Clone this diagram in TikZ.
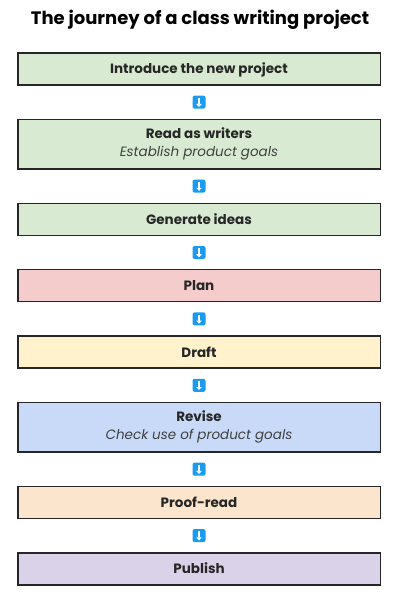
\documentclass[tikz,border=0pt]{standalone}
\usepackage{fontspec}
\setmainfont{Poppins}
\usetikzlibrary{arrows.meta, positioning}

\definecolor{sgreen}{HTML}{D9EAD3}
\definecolor{spink}{HTML}{F4CCCC}
\definecolor{syellow}{HTML}{FFF2CC}
\definecolor{sblue}{HTML}{C9DAF8}
\definecolor{sorange}{HTML}{FCE5CD}
\definecolor{spurple}{HTML}{D9D2E9}
\definecolor{iconblue}{HTML}{1A9BF0}

\begin{document}
\begin{tikzpicture}[x=1pt, y=1pt, node distance=9.75pt,
        stage/.style={draw=black!85, line width=1.5pt, minimum width=362.5pt, minimum height=32pt,
                inner sep=0pt, align=center, text=black!85, text height=9.8pt, text depth=0pt,
                font=\fontsize{13.5}{18}\selectfont\bfseries},
        stagetwo/.style={stage, minimum height=49.5pt, text height=, text depth=},
        icon/.style={fill=iconblue, rounded corners=2pt, minimum size=13pt, inner sep=0pt}]
        \useasboundingbox (0,0) rectangle (400,-599);
        \node[font=\fontsize{18}{20}\selectfont\bfseries] (title) at (200,-19.5) {The journey of a class writing project};
        \node[stage, fill=sgreen] (s_1) at (199,-69) {Introduce the new project};
        \node[icon] (a_1) [below=of s_1] {};
        \node[stagetwo, fill=sgreen] (s_2) [below=of a_1] {Read as writers\\{\mdseries\itshape\color{black!75}Establish product goals}};
        \node[icon] (a_2) [below=of s_2] {};
        \node[stage, fill=sgreen] (s_3) [below=of a_2] {Generate ideas};
        \node[icon] (a_3) [below=of s_3] {};
        \node[stage, fill=spink] (s_4) [below=of a_3] {Plan};
        \node[icon] (a_4) [below=of s_4] {};
        \node[stage, fill=syellow] (s_5) [below=of a_4] {Draft};
        \node[icon] (a_5) [below=of s_5] {};
        \node[stagetwo, fill=sblue] (s_6) [below=of a_5] {Revise\\{\mdseries\itshape\color{black!75}Check use of product goals}};
        \node[icon] (a_6) [below=of s_6] {};
        \node[stage, fill=sorange] (s_7) [below=of a_6] {Proof-read};
        \node[icon] (a_7) [below=of s_7] {};
        \node[stage, fill=spurple] (s_8) [below=of a_7] {Publish};
        \foreach \i in {1,...,7}
                \draw[white, line width=1.6pt, -{Triangle[length=3pt, width=5.5pt]}]
                ([yshift=-2.5pt]a_\i.north) -- ([yshift=2pt]a_\i.south);
\end{tikzpicture}
\end{document}
